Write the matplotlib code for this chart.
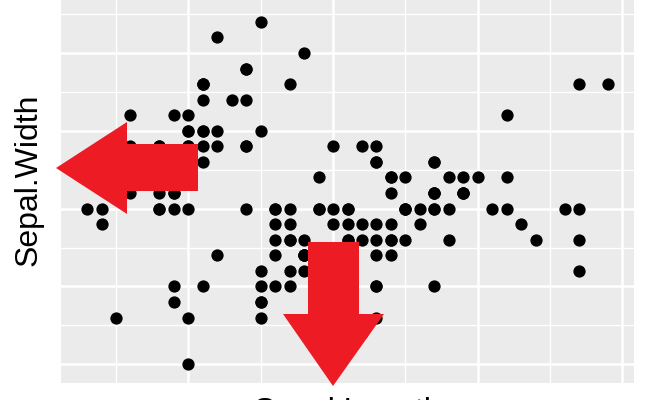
import matplotlib
matplotlib.use("Agg")
import matplotlib.pyplot as plt
from matplotlib.patches import Polygon
import numpy as np

# iris: Sepal.Length / Sepal.Width
sepal_length = [
    5.1, 4.9, 4.7, 4.6, 5.0, 5.4, 4.6, 5.0, 4.4, 4.9, 5.4, 4.8, 4.8, 4.3, 5.8, 5.7, 5.4, 5.1, 5.7, 5.1,
    5.4, 5.1, 4.6, 5.1, 4.8, 5.0, 5.0, 5.2, 5.2, 4.7, 4.8, 5.4, 5.2, 5.5, 4.9, 5.0, 5.5, 4.9, 4.4, 5.1,
    5.0, 4.5, 4.4, 5.0, 5.1, 4.8, 5.1, 4.6, 5.3, 5.0,
    7.0, 6.4, 6.9, 5.5, 6.5, 5.7, 6.3, 4.9, 6.6, 5.2, 5.0, 5.9, 6.0, 6.1, 5.6, 6.7, 5.6, 5.8, 6.2, 5.6,
    5.9, 6.1, 6.3, 6.1, 6.4, 6.6, 6.8, 6.7, 6.0, 5.7, 5.5, 5.5, 5.8, 6.0, 5.4, 6.0, 6.7, 6.3, 5.6, 5.5,
    5.5, 6.1, 5.8, 5.0, 5.6, 5.7, 5.7, 6.2, 5.1, 5.7,
    6.3, 5.8, 7.1, 6.3, 6.5, 7.6, 4.9, 7.3, 6.7, 7.2, 6.5, 6.4, 6.8, 5.7, 5.8, 6.4, 6.5, 7.7, 7.7, 6.0,
    6.9, 5.6, 7.7, 6.3, 6.7, 7.2, 6.2, 6.1, 6.4, 7.2, 7.4, 7.9, 6.4, 6.3, 6.1, 7.7, 6.3, 6.4, 6.0, 6.9,
    6.7, 6.9, 5.8, 6.8, 6.7, 6.7, 6.3, 6.5, 6.2, 5.9,
]
sepal_width = [
    3.5, 3.0, 3.2, 3.1, 3.6, 3.9, 3.4, 3.4, 2.9, 3.1, 3.7, 3.4, 3.0, 3.0, 4.0, 4.4, 3.9, 3.5, 3.8, 3.8,
    3.4, 3.7, 3.6, 3.3, 3.4, 3.0, 3.4, 3.5, 3.4, 3.2, 3.1, 3.4, 4.1, 4.2, 3.1, 3.2, 3.5, 3.6, 3.0, 3.4,
    3.5, 2.3, 3.2, 3.5, 3.8, 3.0, 3.8, 3.2, 3.7, 3.3,
    3.2, 3.2, 3.1, 2.3, 2.8, 2.8, 3.3, 2.4, 2.9, 2.7, 2.0, 3.0, 2.2, 2.9, 2.9, 3.1, 3.0, 2.7, 2.2, 2.5,
    3.2, 2.8, 2.5, 2.8, 2.9, 3.0, 2.8, 3.0, 2.9, 2.6, 2.4, 2.4, 2.7, 2.7, 3.0, 3.4, 3.1, 2.3, 3.0, 2.5,
    2.6, 3.0, 2.6, 2.3, 2.7, 3.0, 2.9, 2.9, 2.5, 2.8,
    3.3, 2.7, 3.0, 2.9, 3.0, 3.0, 2.5, 2.9, 2.5, 3.6, 3.2, 2.7, 3.0, 2.5, 2.8, 3.2, 3.0, 3.8, 2.6, 2.2,
    3.2, 2.8, 2.8, 2.7, 3.3, 3.2, 2.8, 3.0, 2.8, 3.0, 2.8, 3.8, 2.8, 2.8, 2.6, 3.0, 3.4, 3.1, 3.0, 3.1,
    3.1, 3.1, 2.7, 3.2, 3.3, 3.0, 2.5, 3.0, 3.4, 3.0,
]

x_major = [5, 6, 7, 8]
x_minor = [4.5, 5.5, 6.5, 7.5]
y_major = [2.0, 2.5, 3.0, 3.5, 4.0, 4.5]
y_minor = [2.25, 2.75, 3.25, 3.75, 4.25]

W, H = 650, 400
fig = plt.figure(figsize=(6.5, 4), dpi=100)
fig.patch.set_facecolor("white")

# panel is cropped at the top in the reference
ax = fig.add_axes([61 / W, (H - 383) / H, 573 / W, 411 / H])
ax.set_facecolor("#EBEBEB")
ax.set_xlim(4.12, 8.08)
ax.set_ylim(1.88, 4.52)
ax.set_xticks(x_major)
ax.set_xticks(x_minor, minor=True)
ax.set_yticks(y_major)
ax.set_yticks(y_minor, minor=True)
ax.grid(which="major", color="white", linewidth=1.8)
ax.grid(which="minor", color="white", linewidth=1.0)
ax.set_axisbelow(True)
ax.tick_params(which="both", length=0, labelbottom=False, labelleft=False)
for s in ax.spines.values():
    s.set_visible(False)

ax.scatter(sepal_length, sepal_width, s=78, color="black", linewidths=0, zorder=3)

font = dict(family=["Liberation Sans", "DejaVu Sans"], fontsize=23)
fig.text(29 / W, (H - 180) / H, "Sepal.Width", rotation=90, ha="center", va="center", **font)
fig.text(347.5 / W, (H - 420) / H, "Sepal.Length", ha="center", va="baseline", **font)

# red arrows (pixel coords, y from top)
def px(pts):
    return [(x / W, (H - y) / H) for x, y in pts]

left_arrow = [(56, 168), (127, 122), (127, 144), (198, 144), (198, 191), (127, 191), (127, 214)]
down_arrow = [(333, 386), (283, 314), (308, 314), (308, 242), (359, 242), (359, 314), (384, 314)]
for shape in (left_arrow, down_arrow):
    fig.patches.append(Polygon(px(shape), closed=True, transform=fig.transFigure,
                               facecolor="#ED1C24", edgecolor="none", zorder=10))

fig.savefig("out.png", dpi=100)
